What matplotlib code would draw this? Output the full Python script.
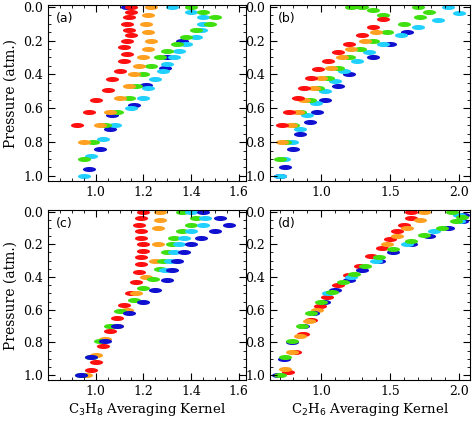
import numpy as np
import matplotlib
matplotlib.use("Agg")
import matplotlib.pyplot as plt
from matplotlib.path import Path
from matplotlib.ticker import AutoMinorLocator

plt.rcParams['font.family'] = ['DejaVu Serif']
plt.rcParams['font.size'] = 9

COL = {'red': '#ff1010', 'orange': '#ffa020', 'green': '#40e010', 'cyan': '#20d0ff', 'blue': '#1010d0'}

# Panel (a) C3H8
a_red_p = [0.0,0.03,0.06,0.1,0.14,0.17,0.2,0.24,0.28,0.32,0.38,0.43,0.49,0.55,0.62,0.7]
a_red_x = [1.15,1.15,1.14,1.13,1.14,1.15,1.13,1.12,1.13,1.12,1.1,1.07,1.05,1.0,0.97,0.92]
a_orange_p = [0.0,0.05,0.1,0.15,0.2,0.25,0.3,0.35,0.4,0.47,0.54,0.62,0.7,0.8]
a_orange_x = [1.23,1.22,1.21,1.22,1.23,1.22,1.2,1.18,1.16,1.14,1.1,1.06,1.02,0.95]
a_green_p = [0.0,0.03,0.06,0.1,0.14,0.18,0.22,0.26,0.3,0.35,0.4,0.47,0.54,0.62,0.7,0.8,0.9]
a_green_x = [1.4,1.45,1.5,1.48,1.42,1.38,1.34,1.3,1.27,1.23,1.2,1.17,1.14,1.09,1.04,0.99,0.95]
a_cyan_p = [0.0,0.03,0.06,0.1,0.14,0.18,0.22,0.26,0.3,0.34,0.38,0.43,0.48,0.54,0.6,0.7,0.78,0.88,1.0]
a_cyan_x = [1.32,1.4,1.45,1.45,1.44,1.42,1.38,1.35,1.33,1.3,1.28,1.25,1.22,1.2,1.15,1.08,1.03,0.98,0.95]
a_blue_p = [0.0,0.2,0.3,0.36,0.46,0.58,0.64,0.72,0.84,0.96]
a_blue_x = [1.13,1.36,1.3,1.29,1.21,1.16,1.07,1.06,1.02,0.97]

# Panel (b) C2H6
b_red_p = [0.07,0.12,0.17,0.22,0.27,0.32,0.37,0.42,0.48,0.54,0.62,0.7]
b_red_x = [1.45,1.38,1.3,1.2,1.12,1.05,0.98,0.93,0.88,0.83,0.77,0.72]
b_orange_p = [0.15,0.2,0.25,0.3,0.36,0.42,0.48,0.55,0.62,0.7,0.8]
b_orange_x = [1.4,1.32,1.22,1.15,1.07,1.0,0.95,0.88,0.83,0.78,0.72]
b_green_p = [0.0,0.0,0.02,0.05,0.0,0.03,0.06,0.1,0.15,0.2,0.25,0.3,0.36,0.42,0.48,0.55,0.62,0.7,0.8,0.9]
b_green_x = [1.22,1.3,1.38,1.45,1.7,1.78,1.72,1.6,1.48,1.38,1.28,1.2,1.12,1.05,0.98,0.92,0.85,0.8,0.74,0.7]
b_cyan_p = [0.0,0.04,0.08,0.12,0.17,0.22,0.27,0.32,0.38,0.44,0.5,0.57,0.64,0.72,0.8,0.9,1.0]
b_cyan_x = [1.92,2.0,1.85,1.7,1.58,1.45,1.35,1.26,1.17,1.1,1.03,0.96,0.9,0.85,0.79,0.73,0.7]
b_blue_p = [0.15,0.22,0.3,0.4,0.47,0.55,0.62,0.68,0.75,0.84,0.95,1.0]
b_blue_x = [1.62,1.5,1.38,1.2,1.12,1.03,0.97,0.92,0.85,0.8,0.74,0.7]

# Panel (c) C3H8
c_red_p = [0.0,0.04,0.08,0.12,0.16,0.2,0.24,0.28,0.32,0.37,0.43,0.5,0.57,0.65,0.73,0.82,0.92,0.97]
c_red_x = [1.2,1.19,1.18,1.19,1.19,1.2,1.2,1.19,1.19,1.18,1.17,1.15,1.12,1.09,1.06,1.03,1.0,0.98]
c_orange_p = [0.0,0.05,0.1,0.2,0.3,0.4,0.5,0.6,0.7,0.78,0.88,1.0]
c_orange_x = [1.27,1.27,1.26,1.26,1.25,1.21,1.17,1.13,1.09,1.04,1.0,0.96]
c_green_p = [0.0,0.04,0.08,0.12,0.16,0.2,0.25,0.3,0.35,0.41,0.47,0.54,0.61,0.7,0.79,0.89,1.0]
c_green_x = [1.36,1.42,1.4,1.36,1.33,1.32,1.3,1.28,1.27,1.24,1.2,1.16,1.1,1.06,1.02,0.98,0.94]
c_cyan_p = [0.0,0.04,0.08,0.12,0.16,0.2,0.25,0.3,0.36]
c_cyan_x = [1.4,1.46,1.45,1.4,1.37,1.35,1.33,1.31,1.29]
c_blue_p = [0.0,0.04,0.08,0.12,0.16,0.2,0.25,0.3,0.36,0.42,0.48,0.55,0.62,0.7,0.79,0.89,1.0]
c_blue_x = [1.45,1.52,1.56,1.5,1.44,1.4,1.37,1.34,1.32,1.3,1.25,1.2,1.14,1.09,1.04,0.98,0.94]

# Panel (d) C2H6
d_red_p = [0.0,0.04,0.08,0.12,0.17,0.22,0.27,0.33,0.39,0.45,0.52,0.58,0.66,0.75,0.86,0.98]
d_red_x = [1.65,1.65,1.6,1.55,1.5,1.44,1.36,1.28,1.2,1.12,1.04,0.99,0.93,0.87,0.81,0.76]
d_orange_p = [0.0,0.05,0.1,0.15,0.2,0.6,0.67,0.76,0.86,0.96]
d_orange_x = [1.75,1.72,1.62,1.55,1.48,0.97,0.91,0.85,0.79,0.74]
d_green_p = [0.0,0.03,0.06,0.1,0.14,0.18,0.23,0.28,0.33,0.38,0.43,0.49,0.55,0.62,0.7,0.79,0.89,1.0]
d_green_x = [1.95,2.02,1.98,1.88,1.75,1.65,1.52,1.42,1.32,1.24,1.16,1.08,1.0,0.93,0.86,0.79,0.74,0.7]
d_cyan_p = [0.02,0.06,0.12,0.2,0.3,0.4,0.5]
d_cyan_x = [2.0,2.0,1.82,1.62,1.4,1.22,1.05]
d_blue_p = [0.02,0.06,0.1,0.15,0.2,0.25,0.3,0.36,0.42,0.48,0.55,0.62,0.7,0.8,0.9,1.0]
d_blue_x = [2.03,2.02,1.92,1.78,1.65,1.52,1.42,1.3,1.2,1.1,1.02,0.94,0.87,0.79,0.73,0.69]

theta = np.linspace(0, 2*np.pi, 24)
ell = Path(np.column_stack([2.6*np.cos(theta), np.sin(theta)]))

fig = plt.figure(figsize=(4.74, 4.23), dpi=100)
W, H = 474, 423
boxes = {'a': (48, 5, 198, 176), 'b': (270, 5, 200, 176),
         'c': (48, 210, 198, 170), 'd': (270, 210, 200, 170)}
panels = {
    'a': [(a_blue_p, a_blue_x, 'blue'), (a_cyan_p, a_cyan_x, 'cyan'), (a_green_p, a_green_x, 'green'),
          (a_orange_p, a_orange_x, 'orange'), (a_red_p, a_red_x, 'red')],
    'b': [(b_blue_p, b_blue_x, 'blue'), (b_cyan_p, b_cyan_x, 'cyan'), (b_green_p, b_green_x, 'green'),
          (b_orange_p, b_orange_x, 'orange'), (b_red_p, b_red_x, 'red')],
    'c': [(c_red_p, c_red_x, 'red'), (c_orange_p, c_orange_x, 'orange'), (c_green_p, c_green_x, 'green'),
          (c_cyan_p, c_cyan_x, 'cyan'), (c_blue_p, c_blue_x, 'blue')],
    'd': [(d_red_p, d_red_x, 'red'), (d_orange_p, d_orange_x, 'orange'), (d_blue_p, d_blue_x, 'blue'),
          (d_cyan_p, d_cyan_x, 'cyan'), (d_green_p, d_green_x, 'green')],
}
xlims = {'a': (0.8, 1.63), 'c': (0.8, 1.63), 'b': (0.63, 2.08), 'd': (0.63, 2.08)}
xticks = {'a': [1.0, 1.2, 1.4, 1.6], 'c': [1.0, 1.2, 1.4, 1.6], 'b': [1.0, 1.5, 2.0], 'd': [1.0, 1.5, 2.0]}

for k, (l, t, w, h) in boxes.items():
    ax = fig.add_axes([l/W, 1-(t+h)/H, w/W, h/H])
    for p, x, c in panels[k]:
        ax.scatter(x, p, marker=ell, s=90, color=COL[c], linewidths=0)
    ax.set_xlim(*xlims[k])
    ax.set_ylim(1.03, -0.01)
    ax.set_xticks(xticks[k])
    ax.set_xticklabels([f"{v:.1f}" for v in xticks[k]])
    ax.set_yticks([0.0, 0.2, 0.4, 0.6, 0.8, 1.0])
    ax.xaxis.set_minor_locator(AutoMinorLocator(5 if k in 'bd' else 4))
    ax.yaxis.set_minor_locator(AutoMinorLocator(4))
    ax.tick_params(which='both', direction='in', top=True, right=True)
    ax.tick_params(which='major', length=5)
    ax.tick_params(which='minor', length=2.5)
    ax.text(0.04, 0.96, f"({k})", transform=ax.transAxes, va='top', ha='left', fontsize=9,
            family='DejaVu Sans')
    if k in 'ac':
        ax.set_ylabel("Pressure (atm.)", fontsize=10)
    if k == 'c':
        ax.set_xlabel(r"C$_3$H$_8$ Averaging Kernel", fontsize=9.5, labelpad=2)
    if k == 'd':
        ax.set_xlabel(r"C$_2$H$_6$ Averaging Kernel", fontsize=9.5, labelpad=2)

fig.savefig("out.png", dpi=100)
